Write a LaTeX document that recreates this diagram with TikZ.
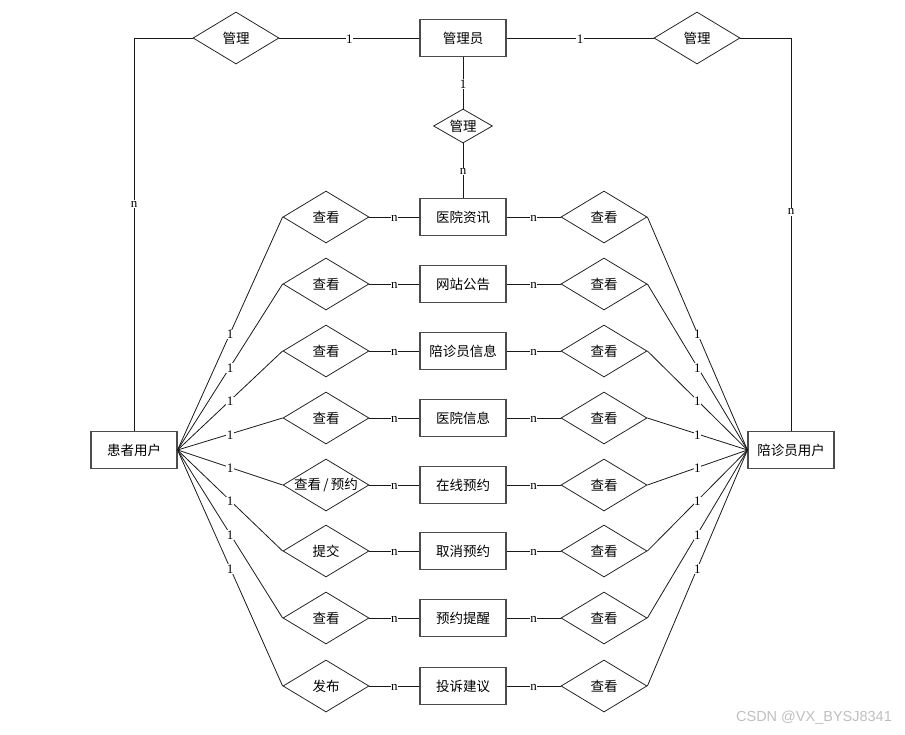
\documentclass[tikz,border=0pt]{standalone}
\usepackage{fontspec}
\setmainfont{Liberation Serif}
\newfontfamily\cjk{Noto Sans CJK SC}
\newfontfamily\wmfont{Liberation Sans}
\usetikzlibrary{shapes.geometric}

\tikzset{
  entity/.style={draw=black!70, line width=1.1pt, minimum width=86pt, minimum height=37pt,
    inner sep=0pt, font=\cjk\fontsize{13.5}{14}\selectfont},
  relation/.style={draw=black!85, line width=0.8pt, diamond, aspect=1.65, inner sep=0pt,
    minimum width=86pt, minimum height=52pt, font=\cjk\fontsize{13.5}{14}\selectfont},
  smallrel/.style={relation, aspect=1.74, minimum width=59pt, minimum height=34pt},
  link/.style={draw=black!90, line width=0.8pt},
  card/.style={fill=white, inner sep=0.6pt, yshift=-1pt, font=\fontsize{13}{13}\selectfont}
}

\begin{document}
\begin{tikzpicture}[x=1pt,y=-1pt]
  \useasboundingbox (0,0) rectangle (905,734);

  % entities
  \node[entity] (adm) at (463,38) {管理员};
  \node[entity] (pat) at (134,450) {患者用户};
  \node[entity] (acc) at (791,450) {陪诊员用户};

  % top relations
  \node[relation] (ml) at (236,38) {管理};
  \node[relation] (mr) at (697,38) {管理};
  \node[smallrel] (mm) at (463,126) {管理};

  % rows
  \foreach \y/\a/\b/\c [count=\i] in {217/查看/医院资讯/查看, 284/查看/网站公告/查看,
      351/查看/陪诊员信息/查看, 418/查看/医院信息/查看,
      485/{\makebox[50pt]{查看\,/\,预约}}/在线预约/查看, 551/提交/取消预约/查看,
      618/查看/预约提醒/查看, 686/发布/投诉建议/查看} {
    \node[relation] (l\i) at (326,\y) {\a};
    \node[entity] (e\i) at (463,\y) {\b};
    \node[relation] (r\i) at (604,\y) {\c};
    \draw[link] (l\i) -- node[card] {n} (e\i);
    \draw[link] (e\i) -- node[card] {n} (r\i);
    \draw[link] (pat.east) -- node[card] {1} (l\i.west);
    \draw[link] (r\i.east) -- node[card] {1} (acc.west);
  }

  % top links
  \draw[link] (pat.north) |- node[card, pos=.29] {n} (ml.west);
  \draw[link] (ml) -- node[card] {1} (adm);
  \draw[link] (adm) -- node[card] {1} (mr);
  \draw[link] (mr.east) -| node[card, pos=.72] {n} (acc.north);
  \draw[link] (adm) -- node[card] {1} (mm);
  \draw[link] (mm) -- node[card] {n} (e1);

  \node[text=black!25, font=\wmfont\fontsize{14.5}{15}\selectfont] (wm) at (814,718) {CSDN @VX\_BYSJ8341};
\end{tikzpicture}
\end{document}
